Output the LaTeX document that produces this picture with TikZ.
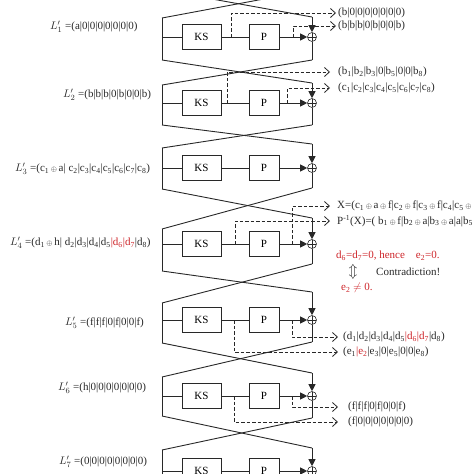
\documentclass[tikz,border=0pt]{standalone}
\usepackage{fontspec}
\setmainfont{Liberation Serif}
\usetikzlibrary{arrows.meta}
\definecolor{redtxt}{RGB}{205,35,40}
\definecolor{ink}{RGB}{40,40,40}
\newcommand\ssub[1]{\textsubscript{#1}}
\newcommand\xo{\hspace{1.6pt}{\scriptsize$\oplus$}\hspace{1.6pt}}
\newcommand\rd[1]{{\color{redtxt}#1}}
\begin{document}
\begin{tikzpicture}[x=1pt,y=-1pt,
  line/.style={line width=0.9pt, draw=ink},
  box/.style={draw=ink, line width=0.9pt, inner sep=0pt, minimum height=25pt, font=\fontsize{11}{13}\selectfont},
  ksbox/.style={box, minimum width=39pt},
  pbox/.style={box, minimum width=30pt},
  xor/.style={circle, draw=ink, line width=0.6pt, minimum size=9pt, inner sep=0pt,
    path picture={\draw[line width=0.6pt, ink] (path picture bounding box.north) -- (path picture bounding box.south) (path picture bounding box.west) -- (path picture bounding box.east);}},
  tri/.style={-{Triangle[length=7pt,width=7pt]}},
  dasharrow/.style={line width=0.8pt, draw=ink, dash pattern=on 3.5pt off 2pt, -{Straight Barb[length=5pt,width=9pt,line width=0.8pt]}},
  lab/.style={anchor=west, inner sep=0pt, text=ink, font=\fontsize{11}{13}\selectfont},
]
\path[use as bounding box] (0,0) rectangle (474,474);
\clip (0,0) rectangle (474,474);

% round-0 ends (above the picture)
\coordinate (lb0) at (162,-10);
\coordinate (rb0) at (312,-10);

\foreach \i/\c/\lt/\rt/\lb/\rb in {1/37/18/17/60/60, 2/103/85/83/125/125, 3/168/148/144/189/188, 4/244/229/218/271/264, 5/320/303/292/343/342, 6/396/377/373/416/418, 7/471/450/448/495/495}{
  \coordinate (lt\i) at (162,\lt);
  \coordinate (rt\i) at (312,\rt);
  \coordinate (lb\i) at (162,\lb);
  \coordinate (rb\i) at (312,\rb);
  \node[ksbox] (ks\i) at (201.5,\c) {KS};
  \node[pbox] (p\i) at (264,\c) {P};
  \node[xor] (x\i) at (312,\c) {};
  \draw[line] (lt\i) -- (lb\i);
  \draw[line] (lt\i |- ks\i) -- (ks\i.west);
  \draw[line] (ks\i) -- (p\i);
  \draw[line, tri] (p\i) -- (x\i);
  \draw[line, tri] (rt\i) -- (x\i);
  \draw[line] (x\i) -- (rb\i);
}
\foreach \i/\j in {0/1,1/2,2/3,3/4,4/5,5/6,6/7}{
  \draw[line] (lb\i) -- (rt\j);
  \draw[line] (rb\i) -- (lt\j);
}

% left labels
\node[lab] (L1) at (50,27) {$L'_1$ =(a|0|0|0|0|0|0|0)};
\node[lab] (L2) at (63,95) {$L'_2$ =(b|b|b|0|b|0|0|b)};
\node[lab] (L3) at (15,169) {$L'_3$ =(c\ssub{1}\xo a| c\ssub{2}|c\ssub{3}|c\ssub{4}|c\ssub{5}|c\ssub{6}|c\ssub{7}|c\ssub{8})};
\node[lab] (L4) at (10,243) {$L'_4$ =(d\ssub{1}\xo h| d\ssub{2}|d\ssub{3}|d\ssub{4}|d\ssub{5}\rd{|d\ssub{6}|d\ssub{7}}|d\ssub{8})};
\node[lab] (L5) at (65,323) {$L'_5$ =(f|f|f|0|f|0|0|f)};
\node[lab] (L6) at (58,388) {$L'_6$ =(h|0|0|0|0|0|0|0)};
\node[lab] (L7) at (59,462) {$L'_7$ =(0|0|0|0|0|0|0|0)};

% right labels
\node[lab] (r1a) at (338,13) {(b|0|0|0|0|0|0|0)};
\node[lab] (r1b) at (338,26) {(b|b|b|0|b|0|0|b)};
\node[lab] (r2a) at (338,72) {(b\ssub{1}|b\ssub{2}|b\ssub{3}|0|b\ssub{5}|0|0|b\ssub{8})};
\node[lab] (r2b) at (338,88) {(c\ssub{1}|c\ssub{2}|c\ssub{3}|c\ssub{4}|c\ssub{5}|c\ssub{6}|c\ssub{7}|c\ssub{8})};
\node[lab] (r4a) at (337,206) {X=(c\ssub{1}\xo a\xo f|c\ssub{2}\xo f|c\ssub{3}\xo f|c\ssub{4}|c\ssub{5}\xo};
\node[lab] (r4b) at (337,221) {P\textsuperscript{-1}(X)=( b\ssub{1}\xo f|b\ssub{2}\xo a|b\ssub{3}\xo a|a|b\ssub{5}};
\node[lab] (r5a) at (343,337) {(d\ssub{1}|d\ssub{2}|d\ssub{3}|d\ssub{4}|d\ssub{5}\rd{|d\ssub{6}|d\ssub{7}}|d\ssub{8})};
\node[lab] (r5b) at (343,352) {(e\ssub{1}\rd{|e\ssub{2}}|e\ssub{3}|0|e\ssub{5}|0|0|e\ssub{8})};
\node[lab] (r6a) at (348,407) {(f|f|f|0|f|0|0|f)};
\node[lab] (r6b) at (348,422) {(f|0|0|0|0|0|0|0)};

% red statement
\node[lab, text=redtxt] (st1) at (336,256) {d\ssub{6}=d\ssub{7}=0, hence\hspace{11pt}e\ssub{2}=0.};
\node[inner sep=0pt, text=ink, font=\fontsize{15}{15}\selectfont] (eqv) at (353,272) {$\Updownarrow$};
\node[lab] (st2) at (376,272) {Contradiction!};
\node[lab, text=redtxt] (st3) at (341,288) {e\ssub{2} $\neq$ 0.};

% dashed taps
\coordinate (d11) at (231,37);
\coordinate (d12) at (293,37);
\coordinate (d21) at (227,103);
\coordinate (d22) at (287,103);
\coordinate (d41) at (292,244);
\coordinate (d42) at (235,244);
\coordinate (d51) at (292,320);
\coordinate (d52) at (234,320);
\coordinate (d61) at (292,396);
\coordinate (d62) at (234,396);
\draw[dasharrow, shorten >=2pt] (d11) |- (r1a.west);
\draw[dasharrow, shorten >=2pt] (d12) |- (r1b.west);
\draw[dasharrow, shorten >=8pt] (d21) |- (r2a.west);
\draw[dasharrow, shorten >=8pt] (d22) |- (r2b.west);
\draw[dasharrow, shorten >=7pt] (d41) |- (r4a.west);
\draw[dasharrow, shorten >=7pt] (d42) |- (r4b.west);
\draw[dasharrow, shorten >=5pt] (d51) |- (r5a.west);
\draw[dasharrow, shorten >=5pt] (d52) |- (r5b.west);
\draw[dasharrow, shorten >=10pt] (d61) |- (r6a.west);
\draw[dasharrow, shorten >=10pt] (d62) |- (r6b.west);
\end{tikzpicture}
\end{document}
